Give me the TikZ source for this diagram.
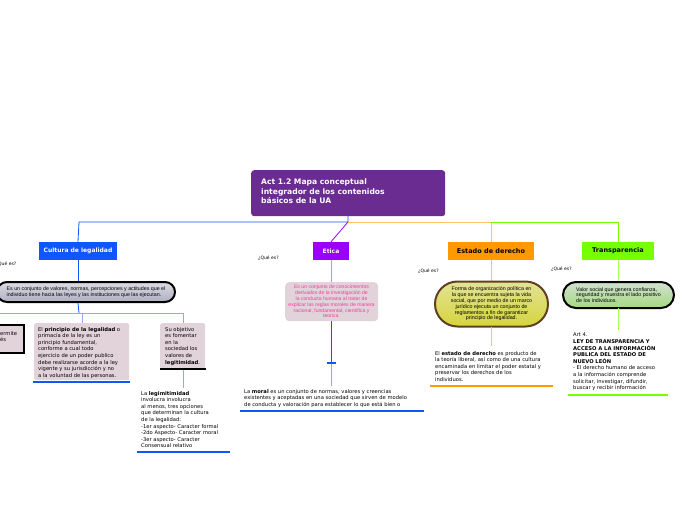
\documentclass[tikz,border=0pt]{standalone}
\usepackage{fontspec}
\setmainfont{DejaVu Sans}
\newfontfamily\narrowf{Liberation Sans}
\usetikzlibrary{shapes.misc}
\definecolor{rootc}{HTML}{6A2C91}
\definecolor{bluec}{HTML}{1155FF}
\definecolor{purpc}{HTML}{9900FF}
\definecolor{orgc}{HTML}{FF9900}
\definecolor{grnc}{HTML}{77FF00}
\definecolor{pinkbg}{HTML}{E2D3DA}
\definecolor{lblue}{HTML}{8FAAF5}
\begin{document}
\begin{tikzpicture}[x=1pt,y=-1pt,
  main/.style={minimum height=18pt,inner sep=0pt,font=\fontsize{6}{7}\selectfont\bfseries},
  q/.style={font=\fontsize{4.5}{5}\selectfont,anchor=west,inner sep=0pt},
  txt/.style={font=\fontsize{5.2}{6.6}\selectfont,align=left,anchor=north west,inner sep=0pt},
  capsule/.style={rounded rectangle,line width=2pt,font=\narrowf\fontsize{5.3}{5.8}\selectfont,align=center,inner sep=2pt}]
\useasboundingbox (0,0) rectangle (696,520);
% root
\node[fill=rootc,rounded corners=3pt,minimum width=194pt,minimum height=46pt,anchor=north west] (root) at (251,170) {};
\node[txt,text=white,font=\fontsize{7.6}{9.2}\selectfont\bfseries] at (261,179) {Act 1.2 Mapa conceptual\\integrador de los contenidos\\básicos de la UA};
\coordinate (r0) at (348,216);
% main nodes
\node[main,fill=bluec,text=white,minimum width=78pt] (cul) at (78,251) {Cultura de legalidad};
\node[main,fill=purpc,text=white,minimum width=36pt] (eti) at (331,251) {Etica};
\node[main,fill=orgc,text=black,minimum width=86pt,font=\fontsize{6.5}{7}\selectfont\bfseries] (est) at (491,251) {Estado de derecho};
\node[main,fill=grnc,text=black,minimum width=72pt,font=\fontsize{6.5}{7}\selectfont\bfseries] (tra) at (618,251) {Transparencia};
\draw[bluec,line width=0.8pt] (r0) -- (348,222) -- (79,222) -- (cul.north);
\draw[purpc,line width=0.8pt] (348,222) -- (eti.north);
\draw[orgc!60,line width=0.8pt] (348,222) -- (491,222) -- (est.north);
\draw[grnc,line width=0.8pt] (491,222) -- (618,222) -- (tra.north);
% qué es
\node[q] at (-2,264) {Qué es?};
\node[q] at (258,258) {¿Qué es?};
\node[q] at (418,271) {¿Qué es?};
\node[q] at (551,269) {¿Qué es?};
% Cultura branch
\node[capsule,draw=black,top color=blue!10!gray!25,bottom color=blue!15!gray!55,minimum width=182pt,minimum height=20pt,align=left] (c1) at (86,292) {Es un conjunto de valores, normas, percepciones y actitudes que el\\ individuo tiene hacia las leyes y las instituciones que las ejecutan.};
\draw[bluec,line width=0.8pt] (cul.south) -- (c1.north -| cul.south);
\draw[bluec,line width=0.8pt] (c1.south -| cul.south) -- (79,313);
\draw[lblue,line width=0.8pt] (0,313) -- (183,313) -- (183,323);
\draw[lblue,line width=0.8pt] (82,313) -- (82,323);
\node[draw=black,line width=2pt,fill=pinkbg,minimum width=28pt,minimum height=28pt,anchor=north west] (cl) at (-5,324) {};
\node[txt] at (0,331) {ermite\\és};
\node[fill=pinkbg,rounded corners=2pt,minimum width=95pt,minimum height=57pt,anchor=north west] (cm) at (34,323) {};
\node[txt] at (38,327) {El \textbf{principio de la legalidad} o\\primacía de la ley es un\\principio fundamental,\\conforme a cual todo\\ejercicio de un poder publico\\debe realizarse acorde a la ley\\vigente y su jurisdicción y no\\a la voluntad de las personas.};
\draw[bluec,line width=2pt] (33,382) -- (130,382);
\node[fill=pinkbg,rounded corners=2pt,minimum width=45pt,minimum height=46pt,anchor=north west] (cr) at (160,323) {};
\node[txt] at (165,327) {Su objetivo\\es fomentar\\en la\\sociedad los\\valores de\\\textbf{legitimidad}.};
\draw[black,line width=2pt] (160,369) -- (206,369);
\draw[lblue,line width=0.8pt] (183,370) -- (183,388);
\node[txt] at (141,391) {La \textbf{legimitimidad}\\involucra involucra\\al menos, tres opciones\\que determinan la cultura\\de la legalidad:\\-1er aspecto- Caracter formal\\-2do Aspecto- Caracter moral\\-3er aspecto- Caracter\\ Consensual relativo};
\draw[bluec,line width=2pt] (137,452) -- (230,452);
% Etica branch
\draw[lblue,line width=0.8pt] (eti.south) -- (331,282);
\node[fill=pinkbg,rounded corners=4pt,minimum width=93pt,minimum height=39pt,anchor=north west] (e1) at (285,282) {};
\node[font=\narrowf\fontsize{5.1}{5.8}\selectfont,text=magenta!70!pink,align=center] at (331.5,301.5) {Es un conjunto de conocimientos\\derivados de la investigación de\\la conducta humana al tratar de\\explicar las reglas morales de manera\\racional, fundamental, científica y\\teorica.};
\draw[bluec,line width=0.8pt] (331,321) -- (331,363);
\draw[bluec,line width=2pt] (327,363) -- (336,363);
\draw[lblue,line width=0.8pt] (331,364) -- (331,386);
\node[txt] at (244,389) {La \textbf{moral} es un conjunto de normas, valores y creencias\\existentes y aceptadas en una sociedad que sirven de modelo\\de conducta y valoración para establecer lo que está bien o};
\draw[bluec,line width=2pt] (240,411) -- (424,411);
% Estado branch
\draw[orgc!60,line width=0.8pt] (est.south) -- (491,282);
\node[capsule,draw=brown!50!black,top color=yellow!25!olive!30,bottom color=olive!55!yellow!60,minimum width=117pt,minimum height=45pt] (s1) at (491.5,304) {Forma de organización política en\\la que se encuentra sujeta la vida\\social, que por medio de un marco\\jurídico ejecuta un conjunto de\\reglamentos a fin de garantizar\\principio de legalidad.};
\draw[orgc!60,line width=0.8pt] (491,327) -- (491,346);
\node[txt] at (435,351) {El \textbf{estado de derecho} es producto de\\la teoría liberal, así como de una cultura\\encaminada en limitar el poder estatal y\\preservar los derechos de los\\individuos.};
\draw[orgc,line width=2pt] (430,386) -- (553,386);
% Transparencia
\draw[grnc!70,line width=0.8pt] (tra.south) -- (618,282);
\node[capsule,draw=black,top color=green!20!gray!30,bottom color=green!40!olive!50,minimum width=115pt,minimum height=26pt,align=left] (t1) at (618.5,295) {Valor social que genera confianza,\\ seguridad y muestra el lado positivo\\de los individuos.};
\draw[grnc!70,line width=0.8pt] (618,308) -- (618,330);
\node[txt] at (573,333) {Art 4.\\\textbf{LEY DE TRANSPARENCIA Y}\\\textbf{ACCESO A LA INFORMACIÓN}\\\textbf{PUBLICA DEL ESTADO DE}\\\textbf{NUEVO LEÓN}\\- El derecho humano de acceso\\a la información comprende\\solicitar, investigar, difundir,\\buscar y recibir información};
\draw[grnc,line width=2pt] (568,395) -- (668,395);
\end{tikzpicture}
\end{document}
